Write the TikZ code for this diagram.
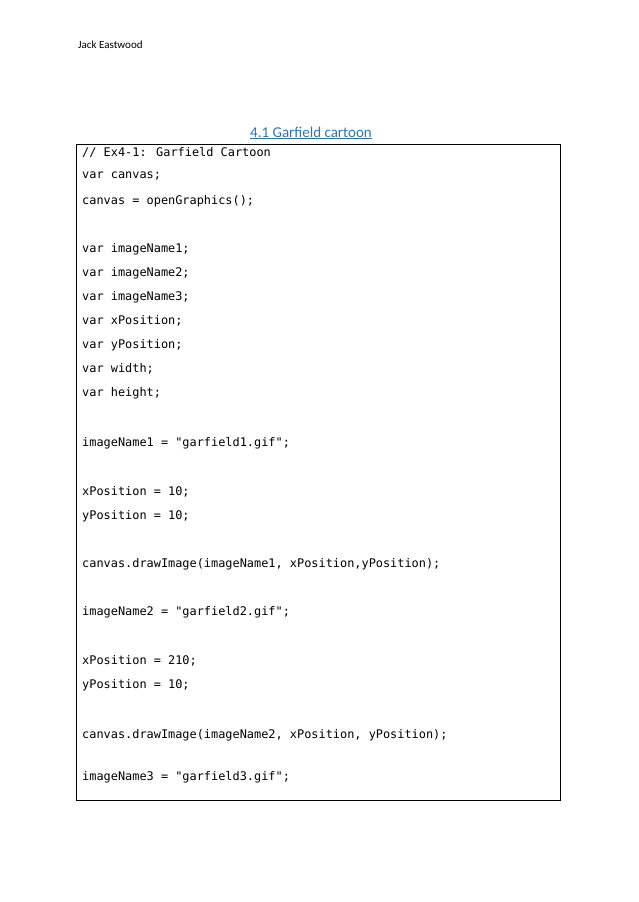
\documentclass[tikz,border=0pt]{standalone}
\usepackage{fontspec}
\setmainfont{Carlito}
\newfontfamily\codefont{DejaVu Sans Mono}
\definecolor{titleblue}{RGB}{46,116,181}
\begin{document}
\begin{tikzpicture}[x=1pt,y=-1pt,
  code/.style={anchor=west,inner sep=0pt,font=\codefont\fontsize{11.9}{14}\selectfont}]
\useasboundingbox (0,0) rectangle (638,902);
\node[anchor=west,inner sep=0pt,font=\fontsize{11}{13}\selectfont] (hdr) at (78,45) {Jack Eastwood};
\node[inner sep=0pt,text=titleblue,font=\fontsize{15}{18}\selectfont] (title) at (311,133) {\underline{4.1 Garfield cartoon}};
\draw[line width=1pt] (76,144) rectangle (560,800);
\node[code] (l1) at (82,152) {// Ex4-1: Garfield Cartoon};
\node[code] (l2) at (82,176) {var canvas;};
\node[code] (l3) at (82,201) {canvas = openGraphics();};
\node[code] (l4) at (82,249) {var imageName1;};
\node[code] (l5) at (82,273) {var imageName2;};
\node[code] (l6) at (82,297) {var imageName3;};
\node[code] (l7) at (82,321) {var xPosition;};
\node[code] (l8) at (82,345) {var yPosition;};
\node[code] (l9) at (82,369) {var width;};
\node[code] (l10) at (82,393) {var height;};
\node[code] (l11) at (82,443) {imageName1 = "garfield1.gif";};
\node[code] (l12) at (82,492) {xPosition = 10;};
\node[code] (l13) at (82,516) {yPosition = 10;};
\node[code] (l14) at (82,564) {canvas.drawImage(imageName1, xPosition,yPosition);};
\node[code] (l15) at (82,612) {imageName2 = "garfield2.gif";};
\node[code] (l16) at (82,661) {xPosition = 210;};
\node[code] (l17) at (82,685) {yPosition = 10;};
\node[code] (l18) at (82,735) {canvas.drawImage(imageName2, xPosition, yPosition);};
\node[code] (l19) at (82,777) {imageName3 = "garfield3.gif";};
\end{tikzpicture}
\end{document}
